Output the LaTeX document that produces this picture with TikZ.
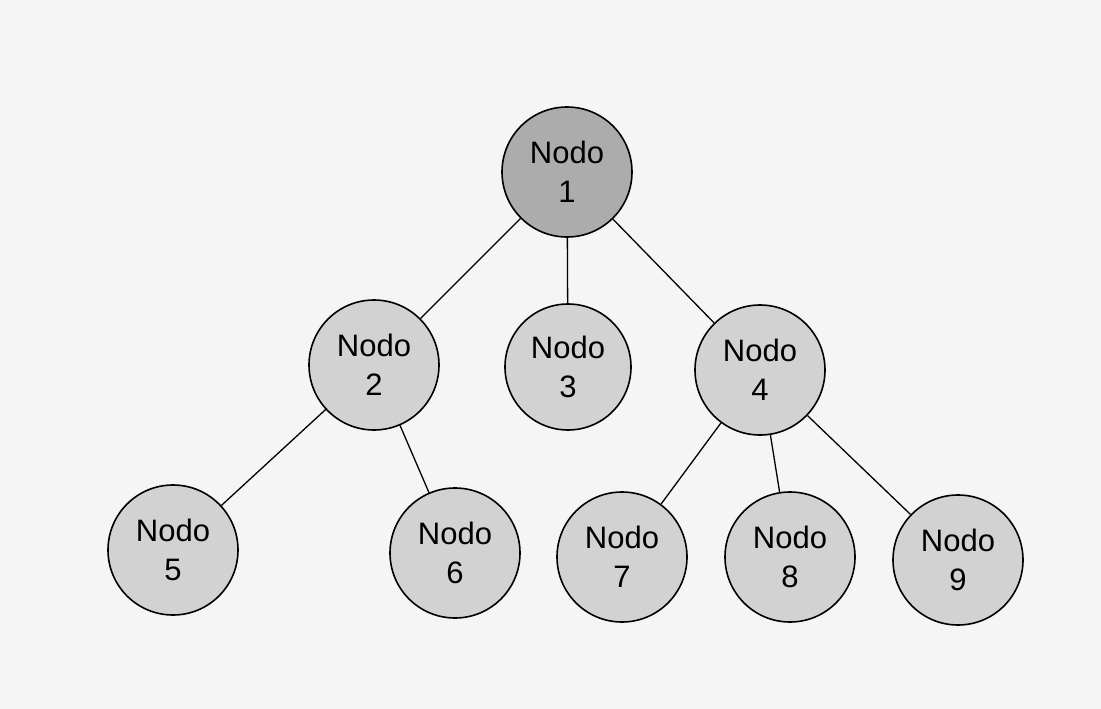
\documentclass[tikz,border=0pt]{standalone}
\usepackage{fontspec}
\setmainfont{Liberation Sans}
\begin{document}
\begin{tikzpicture}[x=1pt,y=-1pt,
  nd/.style={circle,draw=black,line width=1.6pt,fill=gray!35,minimum size=130pt,inner sep=0pt,align=center,font=\fontsize{31}{39}\selectfont},
  root/.style={nd,fill=gray!65},
  edge/.style={line width=1.3pt}]
\fill[gray!8] (0,0) rectangle (1101,709);
\useasboundingbox (0,0) rectangle (1101,709);
\node[root] (n1) at (567,172) {Nodo\\1};
\node[nd] (n2) at (374,365) {Nodo\\2};
\node[nd,minimum size=126pt] (n3) at (568,367) {Nodo\\3};
\node[nd] (n4) at (760,370) {Nodo\\4};
\node[nd] (n5) at (173,550) {Nodo\\5};
\node[nd] (n6) at (455,553) {Nodo\\6};
\node[nd] (n7) at (622,557) {Nodo\\7};
\node[nd] (n8) at (790,557) {Nodo\\8};
\node[nd] (n9) at (958,560) {Nodo\\9};
\draw[edge] (n1)--(n2); \draw[edge] (n1)--(n3); \draw[edge] (n1)--(n4);
\draw[edge] (n2)--(n5); \draw[edge] (n2)--(n6);
\draw[edge] (n4)--(n7); \draw[edge] (n4)--(n8); \draw[edge] (n4)--(n9);
\end{tikzpicture}
\end{document}
